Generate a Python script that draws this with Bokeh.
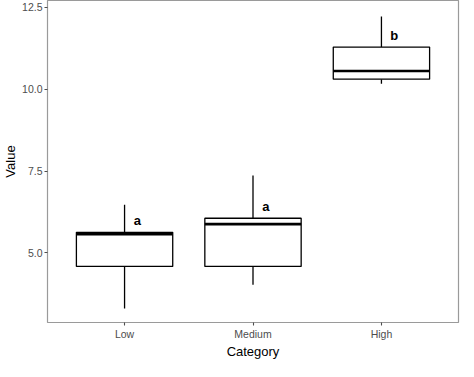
from bokeh.plotting import figure
from bokeh.models import FactorRange, Range1d, FixedTicker, ColumnDataSource
from bokeh.transform import dodge
from bokeh.core.properties import value
from bokeh.embed import file_html
from bokeh.resources import INLINE

categories = ["Low", "Medium", "High"]
whisker_low = [3.31, 4.03, 10.16]
q1 = [4.59, 4.59, 10.30]
median = [5.57, 5.88, 10.55]
q3 = [5.63, 6.06, 11.28]
whisker_high = [6.47, 7.36, 12.21]
letters = ["a", "a", "b"]
y_ticks = [5.0, 7.5, 10.0, 12.5]

label_offset = 0.35
label_y = [v + label_offset for v in q3]
box_width = 0.75

src = ColumnDataSource(dict(cat=categories, wl=whisker_low, q1=q1, med=median,
                            q3=q3, wh=whisker_high, lab=letters, ly=label_y))

p = figure(width=462, height=361, output_backend="svg", toolbar_location=None,
           x_range=FactorRange(factors=categories, range_padding=0.2 / 3),
           y_range=Range1d(2.88, 12.7))
p.min_border_left = 0
p.min_border_right = 4
p.min_border_top = 0
p.min_border_bottom = 0

p.xgrid.visible = False
p.ygrid.visible = False
p.outline_line_color = "#9a9a9a"
p.outline_line_width = 1.2
p.background_fill_color = "white"
p.border_fill_color = "white"

# whiskers
p.segment(x0="cat", y0="q3", x1="cat", y1="wh", source=src, line_color="black", line_width=1.3)
p.segment(x0="cat", y0="wl", x1="cat", y1="q1", source=src, line_color="black", line_width=1.3)
# boxes
p.vbar(x="cat", bottom="q1", top="q3", width=box_width, source=src, fill_color="white",
       line_color="black", line_width=1.3)
# medians
p.segment(x0=dodge("cat", -box_width / 2, range=p.x_range), y0="med",
          x1=dodge("cat", box_width / 2, range=p.x_range), y1="med",
          source=src, line_color="black", line_width=2.6)

# letters
p.text(x=dodge("cat", 0.1, range=p.x_range), y="ly", text="lab", source=src,
       text_font=value("Liberation Sans"), text_font_style="bold", text_font_size="13px",
       text_align="center", text_baseline="middle", text_color="black")

for ax in (p.xaxis[0], p.yaxis[0]):
    ax.axis_line_color = None
    ax.major_tick_line_color = "#4d4d4d"
    ax.major_tick_line_width = 1.1
    ax.major_tick_in = 0
    ax.major_tick_out = 3
    ax.minor_tick_line_color = None
    ax.major_label_text_font = "Liberation Sans"
    ax.major_label_text_font_size = "10.5px"
    ax.major_label_text_color = "#4d4d4d"
    ax.major_label_standoff = 2
    ax.axis_label_text_font = "Liberation Sans"
    ax.axis_label_text_font_size = "13px"
    ax.axis_label_text_font_style = "normal"
    ax.axis_label_text_color = "black"
    ax.axis_label_standoff = 1

p.xaxis.axis_label = "Category"
p.yaxis.axis_label = "Value"
p.yaxis.ticker = FixedTicker(ticks=y_ticks)
p.yaxis.major_label_overrides = {t: f"{t:.1f}" for t in y_ticks}

open("out.html", "w").write(file_html(p, INLINE))
